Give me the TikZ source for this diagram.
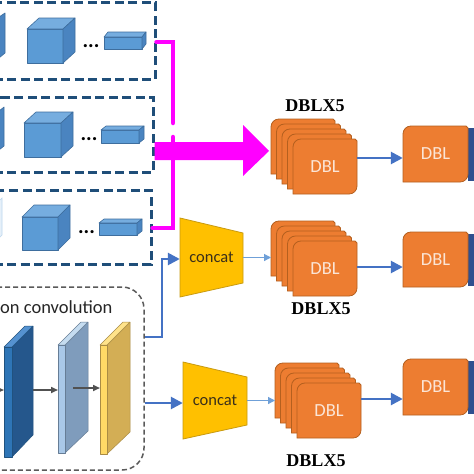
\documentclass[tikz,border=0pt]{standalone}
\usepackage{fontspec}
\setmainfont{Carlito}
\newfontfamily\dblserif{Liberation Serif}
\usetikzlibrary{arrows.meta,calc}
\definecolor{dashblue}{HTML}{1F4E79}
\definecolor{cubefront}{HTML}{5B9BD5}
\definecolor{cubetop}{HTML}{76ADDF}
\definecolor{cuberight}{HTML}{4A84C0}
\definecolor{cubeedge}{HTML}{3E6E9E}
\definecolor{mag}{HTML}{FF00FF}
\definecolor{dblfill}{HTML}{ED7D31}
\definecolor{dbledge}{HTML}{B5601F}
\definecolor{dbltxt}{HTML}{FBE5D6}
\definecolor{arrblue}{HTML}{4472C4}
\definecolor{thinblue}{HTML}{6FA0D8}
\definecolor{concatfill}{HTML}{FFC000}
\definecolor{concatedge}{HTML}{C89A10}
\definecolor{concattxt}{HTML}{3A2F1A}
\definecolor{grayline}{HTML}{5A5A5A}
\definecolor{rightblue}{HTML}{2F4F8F}
\definecolor{slaba}{HTML}{2E75B6}
\definecolor{slabaside}{HTML}{25578C}
\definecolor{slabatop}{HTML}{5592D0}
\definecolor{slabb}{HTML}{A9C8E8}
\definecolor{slabbside}{HTML}{7F9CBC}
\definecolor{slabbtop}{HTML}{C5DCF0}
\definecolor{slabc}{HTML}{FFD966}
\definecolor{slabcside}{HTML}{D3AE55}
\definecolor{slabctop}{HTML}{FFE38A}
\newcommand{\dblshape}[4]{%
  \filldraw[dblsh] (#1,#2+#4) -- (#1,#2+8) .. controls (#1,#2+3.5) and (#1+3.5,#2) .. (#1+8,#2)
    -- (#1+#3-2,#2) -- (#1+#3,#2+2) -- (#1+#3,#2+#4-8)
    .. controls (#1+#3,#2+#4-3.5) and (#1+#3-3.5,#2+#4) .. (#1+#3-8,#2+#4) -- cycle;}
\newcommand{\dblstack}[3]{%
  \foreach \k in {4,3,2,1} {\dblshape{#2-5.5*\k}{#3-5*\k}{64}{55}}
  \dblshape{#2}{#3}{64}{55}
  \coordinate (#1-back) at (#2-22,#3+7.5);
  \node[dbltext, minimum width=64pt, minimum height=55pt] (#1) at (#2+32,#3+27.5) {DBL};}
\newcommand{\cubeat}[6]{%
  \filldraw[cubesh, fill=cubefront] (#1,#2) rectangle (#1+#3,#2+#4);
  \filldraw[cubesh, fill=cubetop] (#1,#2) -- (#1+#5,#2-#6) -- (#1+#3+#5,#2-#6) -- (#1+#3,#2) -- cycle;
  \filldraw[cubesh, fill=cuberight] (#1+#3,#2) -- (#1+#3+#5,#2-#6) -- (#1+#3+#5,#2+#4-#6) -- (#1+#3,#2+#4) -- cycle;}
\begin{document}
\begin{tikzpicture}[x=1pt,y=-1pt,
  dashbox/.style={draw=dashblue, line width=3pt, dash pattern=on 9pt off 4.5pt, minimum width=#1, inner sep=0pt},
  cubesh/.style={draw=cubeedge, line width=0.6pt, line join=round},
  dblsh/.style={fill=dblfill, draw=dbledge, line width=0.8pt},
  dbltext/.style={text=dbltxt, font=\fontsize{18.5}{20}\selectfont, inner sep=0pt},
  concatsh/.style={fill=concatfill, draw=concatedge, line width=0.8pt},
  concattext/.style={text=concattxt, font=\fontsize{16.5}{18}\selectfont, inner sep=0pt},
  labelx/.style={font=\dblserif\bfseries\fontsize{18}{20}\selectfont, inner sep=0pt},
  dotsty/.style={font=\bfseries\fontsize{21}{22}\selectfont, inner sep=0pt},
  magline/.style={draw=mag, line width=4.5pt, line cap=round},
  bluearr/.style={draw=arrblue, line width=2.6pt, -{Triangle[length=12pt,width=12pt]}},
  thinarr/.style={draw=thinblue, line width=1.2pt, -{Triangle[length=7pt,width=7pt]}},
  grayarr/.style={draw=grayline!90!black, line width=1.6pt, -{Triangle[length=7pt,width=6pt]}},
  slabedge/.style={line width=0.5pt, line join=round}]
\useasboundingbox (0,0) rectangle (474,474);
\clip (0,0) rectangle (474,474);
\fill[white] (0,0) rectangle (474,474);

% dashed feature boxes
\node[dashbox=175pt, minimum height=77pt] (b1) at (67.5,40.5) {};
\node[dashbox=173pt, minimum height=75pt] (b2) at (66.5,134.5) {};
\node[dashbox=171pt, minimum height=74pt] (b3) at (65.5,227) {};

% partial cubes at the left edge
\filldraw[cubesh, fill=cuberight] (-1,17) -- (5,13) -- (5,53) -- (-1,58) -- cycle;
\filldraw[cubesh, fill=cuberight] (-1,111) -- (4,107) -- (4,146) -- (-1,150) -- cycle;
\filldraw[draw=cubefront!40, fill=cubefront!15, line width=0.6pt] (-1,201) -- (2,198) -- (2,235) -- (-1,238) -- cycle;

% cubes
\cubeat{27}{29}{36}{34}{12}{11}
\cubeat{24}{123}{37}{34}{12}{11}
\cubeat{22}{217}{36}{33}{12}{12}
\cubeat{104}{37}{38}{12}{4}{5}
\cubeat{101}{130}{38}{13}{5}{4}
\cubeat{99}{223}{38}{12}{5}{4}
\node[dotsty, anchor=base] (d1) at (91,47) {...};
\node[dotsty, anchor=base] (d2) at (89,140) {...};
\node[dotsty, anchor=base] (d3) at (86.5,233) {...};

% magenta connectors
\draw[magline] (b1.east |- 0,42) -- (173,42) -- (173,123);
\draw[magline] (173,137) -- (173,228) -- (b3.east |- 0,228);
\fill[mag] (b2.east |- 0,142) -- (243,142) -- (243,125) -- (269,151) -- (243,176) -- (243,160) -- (b2.east |- 0,160) -- cycle;

% DBL stacks
\node[labelx] (l1) at (315,106) {DBLX5};
\dblstack{s1}{293}{139}
\dblstack{s2}{293}{241}
\dblstack{s3}{297}{383}
\node[labelx] (l2) at (321,309) {DBLX5};
\node[labelx] (l3) at (316,461) {DBLX5};

% right DBL boxes
\fill[rightblue] (468,128) rectangle (480,181);
\fill[rightblue] (468,234) rectangle (480,286);
\fill[rightblue] (468,361) rectangle (480,414);
\dblshape{403}{126}{65}{56}
\node[dbltext, minimum width=65pt, minimum height=56pt] (r1) at (435.5,154) {DBL};
\dblshape{403}{232}{65}{55}
\node[dbltext, minimum width=65pt, minimum height=55pt] (r2) at (435.5,259.5) {DBL};
\dblshape{403}{359}{65}{56}
\node[dbltext, minimum width=65pt, minimum height=56pt] (r3) at (435.5,387) {DBL};

\draw[bluearr] (s1.east |- 0,158) -- (r1.west |- 0,158);
\draw[bluearr] (s2.east |- 0,267) -- (r2.west |- 0,267);
\draw[bluearr] (s3.east |- 0,399) -- (r3.west |- 0,399);

% concat blocks
\filldraw[concatsh] (180,218) -- (243,233) -- (243,283) -- (180,297) -- cycle;
\node[concattext, minimum width=63pt, minimum height=79pt] (c1) at (211.5,257.5) {concat};
\filldraw[concatsh] (183,362) -- (247,377) -- (247,425) -- (183,439) -- cycle;
\node[concattext, minimum width=64pt, minimum height=77pt] (c2) at (215,400.5) {concat};
\draw[thinarr] (c1.east) -- (c1.east -| s2-back);
\draw[thinarr] (c2.east) -- (c2.east -| s3-back);

% separation convolution box
\node[draw=grayline, line width=1.5pt, dash pattern=on 5pt off 3pt, rounded corners=22pt,
      minimum width=184pt, minimum height=183pt, inner sep=0pt] (g) at (52,378.5) {};
\node[anchor=base west, inner sep=0pt, font=\fontsize{18.5}{20}\selectfont, text=black!85] (gt) at (0,313) {on convolution};

% slabs
\filldraw[slabedge, draw=slaba!70!black, fill=slabaside] (12,347) -- (33,326) -- (33,435) -- (12,457) -- cycle;
\filldraw[slabedge, draw=slaba!70!black, fill=slabatop] (4,347) -- (25,326) -- (33,326) -- (12,347) -- cycle;
\filldraw[slabedge, draw=slaba!70!black, fill=slaba] (4,347) rectangle (12,457);
\filldraw[slabedge, draw=slabbside!80!black, fill=slabbside] (65,345) -- (88,322) -- (88,431) -- (65,453) -- cycle;
\filldraw[slabedge, draw=slabbside!80!black, fill=slabbtop] (58,345) -- (81,322) -- (88,322) -- (65,345) -- cycle;
\filldraw[slabedge, draw=slabbside!80!black, fill=slabb] (58,345) rectangle (65,453);
\filldraw[slabedge, draw=slabcside!80!black, fill=slabcside] (107,345) -- (130,322) -- (130,432) -- (107,454) -- cycle;
\filldraw[slabedge, draw=slabcside!80!black, fill=slabctop] (100,345) -- (123,322) -- (130,322) -- (107,345) -- cycle;
\filldraw[slabedge, draw=slabcside!80!black, fill=slabc] (100,345) rectangle (107,454);
\coordinate (gin) at (-20,390);
\coordinate (sa) at (4,390);
\coordinate (sar) at (33,390);
\coordinate (sb) at (58,390);
\coordinate (sbm) at (73,388);
\coordinate (sc) at (100,388);
\draw[grayarr] (gin) -- (sa);
\draw[grayarr] (sar) -- (sb);
\draw[grayarr] (sbm) -- (sc);

% blue connectors to concat blocks
\draw[bluearr] (g.east |- 0,337) -- (162,337) |- (c1.west |- 0,259);
\draw[bluearr] (g.east |- 0,403) -- (c2.west |- 0,403);
\end{tikzpicture}
\end{document}
